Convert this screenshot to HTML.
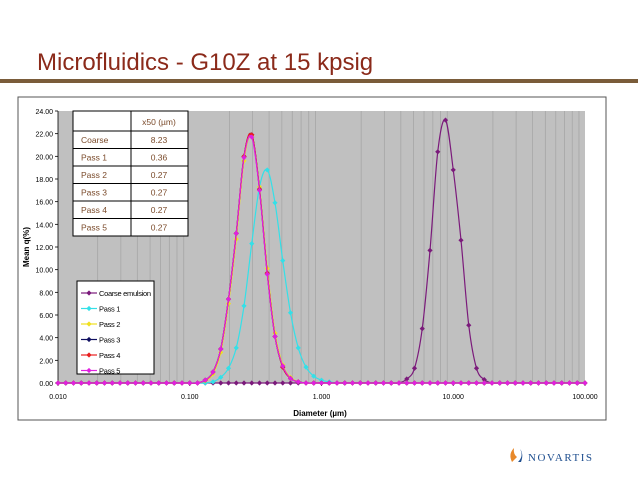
<!DOCTYPE html>
<html><head><meta charset="utf-8"><style>
body{margin:0;background:#fff;width:638px;height:478px;overflow:hidden;font-family:"Liberation Sans",sans-serif}
</style></head><body>
<svg width="638" height="478" viewBox="0 0 638 478" xmlns="http://www.w3.org/2000/svg">
<text x="37" y="70" font-size="24" fill="#8b2a1a" font-family="Liberation Sans, sans-serif">Microfluidics - G10Z at 15 kpsig</text>
<rect x="0" y="79" width="638" height="4" fill="#7a5c3a"/>
<rect x="18" y="97" width="588" height="323" fill="#fff" stroke="#555" stroke-width="1"/>
<rect x="58" y="111" width="527" height="272" fill="#c0c0c0"/>
<g id="grid"></g>
<g id="axes"></g>
<g id="series"></g>
<g font-size="8.5" fill="#7a4a2a">
<rect x="73" y="111" width="115" height="125" fill="#fff" stroke="#000" stroke-width="1"/>
<line x1="131" y1="111" x2="131" y2="236" stroke="#000"/>
<line x1="73" y1="131" x2="188" y2="131" stroke="#000"/>
<line x1="73" y1="148.5" x2="188" y2="148.5" stroke="#000"/>
<line x1="73" y1="166" x2="188" y2="166" stroke="#000"/>
<line x1="73" y1="183.5" x2="188" y2="183.5" stroke="#000"/>
<line x1="73" y1="201" x2="188" y2="201" stroke="#000"/>
<line x1="73" y1="218.5" x2="188" y2="218.5" stroke="#000"/>
<text x="159" y="125" text-anchor="middle">x50 (µm)</text>
<text x="81" y="143">Coarse</text><text x="159" y="143" text-anchor="middle">8.23</text>
<text x="81" y="160.5">Pass 1</text><text x="159" y="160.5" text-anchor="middle">0.36</text>
<text x="81" y="178">Pass 2</text><text x="159" y="178" text-anchor="middle">0.27</text>
<text x="81" y="195.5">Pass 3</text><text x="159" y="195.5" text-anchor="middle">0.27</text>
<text x="81" y="213">Pass 4</text><text x="159" y="213" text-anchor="middle">0.27</text>
<text x="81" y="230.5">Pass 5</text><text x="159" y="230.5" text-anchor="middle">0.27</text>
</g>
<g id="legend">
<rect x="77" y="281" width="77" height="93" fill="#fff" stroke="#000"/>
</g>
<text x="320" y="416" font-size="8" font-weight="bold" text-anchor="middle">Diameter (µm)</text>
<text transform="translate(29,247) rotate(-90)" font-size="8" font-weight="bold" text-anchor="middle">Mean q(%)</text>
<g>
<path d="M512 462 q-4 -8 2 -14 q-1 6 3 9 z" fill="#e8892b"/>
<path d="M518 462 q6 -6 2 -13 q4 5 1 13 z" fill="#1f4f8f"/>
<text x="528" y="461" font-size="11" fill="#1f4f8f" font-family="Liberation Serif, serif" letter-spacing="1.5">NOVARTIS</text>
</g>
</svg>
<script>
const yTicks=[0,2,4,6,8,10,12,14,16,18,20,22,24];
const xTickLabels=["0.010","0.100","1.000","10.000","100.000"];
const coarse={start:45,vals:[0.35,1.3,4.8,11.7,20.4,23.2,18.8,12.6,5.1,1.3,0.3]};
const pass1={start:20,vals:[0.1,0.5,1.3,3.1,6.8,12.3,17.3,18.8,15.9,10.8,6.2,3.1,1.4,0.6,0.25,0.1]};
const pass2={start:19,vals:[0.2,0.8,2.7,7.0,12.7,19.6,21.8,17.3,10.1,4.4,1.6,0.5,0.1]};
const pass3={start:19,vals:[0.26,0.97,3.0,7.4,13.2,20.0,21.9,17.1,9.7,4.1,1.4,0.4,0.1]};
const pass4={start:19,vals:[0.26,0.97,3.0,7.4,13.2,20.0,21.9,17.1,9.7,4.1,1.4,0.4,0.1]};
const pass5={start:19,vals:[0.26,0.97,3.0,7.4,13.2,19.9,21.7,17.0,9.6,4.1,1.5,0.4,0.1]};
const NS="http://www.w3.org/2000/svg";
const N=69,PER=17;
const X=d=>58+(Math.log10(d)+2)*131.75;
const Y=v=>383-v*(272/24);
const diam=i=>0.01*Math.pow(10,i/PER);
function mk(t,a,p){const e=document.createElementNS(NS,t);for(const k in a)e.setAttribute(k,a[k]);p.appendChild(e);return e;}
const grid=document.getElementById('grid');
for(let dec=-2;dec<2;dec++)for(let m=2;m<=9;m++){const x=X(m*Math.pow(10,dec));
const l=mk('line',{x1:x,y1:111,x2:x,y2:383,stroke:'#a6a6a6','stroke-width':0.8},grid);

}
const ax=document.getElementById('axes');
mk('line',{x1:58,y1:111,x2:58,y2:383,stroke:'#000','stroke-width':0.8},ax);
mk('line',{x1:58,y1:383,x2:585,y2:383,stroke:'#000','stroke-width':0.8},ax);
yTicks.forEach(v=>{mk('line',{x1:55,y1:Y(v),x2:58,y2:Y(v),stroke:'#000','stroke-width':0.8},ax);
const t=mk('text',{x:53,y:Y(v)+3,'font-size':7,'text-anchor':'end'},ax);t.textContent=v.toFixed(2);

});
xTickLabels.forEach((s,i)=>{const x=X(Math.pow(10,i-2));
mk('line',{x1:x,y1:383,x2:x,y2:386,stroke:'#000','stroke-width':0.8},ax);
const t=mk('text',{x:x,y:399,'font-size':7,'text-anchor':'middle'},ax);t.textContent=s;

});
const series=[["Coarse emulsion",coarse,"#7b1a7b"],["Pass 1",pass1,"#33e0e8"],["Pass 2",pass2,"#f0e020"],["Pass 3",pass3,"#101060"],["Pass 4",pass4,"#e82020"],["Pass 5",pass5,"#e020e0"]];
const sg=document.getElementById('series');
function path(pts){let d="M"+pts[0][0]+" "+pts[0][1];
for(let i=0;i<pts.length-1;i++){const p0=pts[i-1]||pts[i],p1=pts[i],p2=pts[i+1],p3=pts[i+2]||p2;
d+=` C${p1[0]+(p2[0]-p0[0])/6} ${p1[1]+(p2[1]-p0[1])/6} ${p2[0]-(p3[0]-p1[0])/6} ${p2[1]-(p3[1]-p1[1])/6} ${p2[0]} ${p2[1]}`;}
return d;}
series.forEach(([name,s,c])=>{const g=mk('g',{},sg);


const pts=[];for(let i=0;i<N;i++){const k=i-s.start;const v=(k>=0&&k<s.vals.length)?s.vals[k]:0;pts.push([X(diam(i)),Y(v)]);}
mk('path',{d:path(pts),fill:'none',stroke:c,'stroke-width':1.2},g);
pts.forEach(p=>{const m=mk('path',{d:`M${p[0]} ${p[1]-2.6}l2.6 2.6l-2.6 2.6l-2.6 -2.6z`,fill:c},g);

});});
const lg=document.getElementById('legend');
series.forEach(([name,s,c],i)=>{const y=293+i*15.5;const g=mk('g',{},lg);


mk('line',{x1:81,y1:y,x2:97,y2:y,stroke:c,'stroke-width':1.2},g);
mk('path',{d:`M89 ${y-2.6}l2.6 2.6l-2.6 2.6l-2.6 -2.6z`,fill:c},g);
const t=mk('text',{x:99,y:y+3,'font-size':7.5,'letter-spacing':-0.3},g);t.textContent=name;});
</script>
</body></html>
